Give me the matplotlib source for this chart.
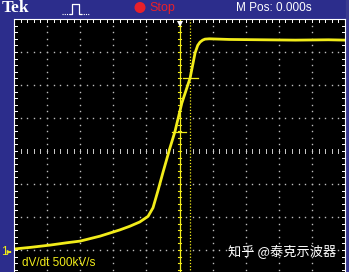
import numpy as np
import matplotlib.pyplot as plt

# trace of channel 1, in divisions (x: time div, y: volt div)
trace_x = [-5.0, -4.5, -3.9, -3.4, -3.0, -2.4, -1.8, -1.5, -1.2, -0.95, -0.8,
           -0.65, -0.5, -0.4, -0.29, -0.14, 0.07, 0.32, 0.47, 0.55, 0.62, 0.7,
           0.77, 0.9, 1.5, 2.5, 3.5, 4.5, 5.0]
trace_y = [-2.97, -2.92, -2.85, -2.78, -2.73, -2.58, -2.39, -2.28, -2.15, -1.98,
           -1.72, -1.2, -0.65, -0.3, 0.09, 0.58, 1.45, 2.21, 2.97, 3.2, 3.3,
           3.36, 3.39, 3.4, 3.38, 3.37, 3.36, 3.37, 3.36]

header_left = "Tek"
header_state = "Stop"
header_mpos = "M Pos: 0.000s"
readout = "dV/dt 500kV/s"
watermark = "知乎 @泰克示波器"

W, H = 349, 272
blue = "#2c2d8c"
yellow = "#f2ec1a"
dotc = "#bdbdbd"

fig = plt.figure(figsize=(W / 100, H / 100), dpi=100)
fig.patch.set_facecolor("black")

# overlay in pixel coordinates for the frame and header
bg = fig.add_axes([0, 0, 1, 1])
bg.set_xlim(0, W)
bg.set_ylim(H, 0)
bg.axis("off")
bg.add_patch(plt.Rectangle((0, 0), W, 18, color=blue, zorder=1))
bg.add_patch(plt.Rectangle((0, 0), 13.5, H, color=blue, zorder=1))
bg.add_patch(plt.Rectangle((345.5, 0), 4, H, color="#3a3a90", zorder=1))
bg.text(1.5, 8.5, header_left, color="white", fontsize=12.5, fontweight="bold",
        family="Liberation Serif", va="center", ha="left")
# trigger icon
bg.plot([62, 70], [14, 14], color="white", lw=0.8, ls=(0, (1, 1)))
bg.plot([70, 72, 72, 79, 79, 81], [14, 14, 4, 4, 14, 14], color="white", lw=0.9)
bg.plot([81, 89], [14, 14], color="white", lw=0.8, ls=(0, (1, 1)))
bg.add_patch(plt.Circle((140, 7.5), 4.8, color="#e8202a", zorder=3))
bg.text(149, 8, header_state, color="#e8202a", fontsize=9,
        family="Liberation Sans", va="center", ha="left")
bg.text(236, 8, header_mpos, color="white", fontsize=8.5,
        family="Liberation Sans", va="center", ha="left")
bg.text(1, 252, "1", color=yellow, fontsize=8.5, family="Liberation Sans",
        va="center", ha="left")
bg.annotate("", xy=(14, 252), xytext=(7.5, 252),
            arrowprops=dict(arrowstyle="-|>", color=yellow, lw=0.8,
                            mutation_scale=5))

# graticule axes: 10 x 8 divisions, bottom cut by the picture
top, left, right = 19, 14, 345
div = 33.0
ax = fig.add_axes([left / W, (H - top - 8 * div) / H, (right - left) / W,
                   8 * div / H])
ax.set_xlim(-5, 5)
ax.set_ylim(-4, 4)
ax.set_facecolor("black")
ax.set_xticks([])
ax.set_yticks([])
for s in ax.spines.values():
    s.set_color("white")
    s.set_linewidth(0.8)

fine = np.arange(-5, 5.01, 0.2)
fine_y = np.arange(-4, 4.01, 0.2)
for gx in range(-4, 5):
    if gx != 0:
        ax.plot(np.full(len(fine_y), gx), fine_y, ls="none", marker="s",
                ms=1.0, mew=0, color=dotc)
for gy in range(-3, 4):
    if gy != 0:
        ax.plot(fine, np.full(len(fine), gy), ls="none", marker="s", ms=1.0,
                mew=0, color=dotc)

# edge ticks and center-line ticks
for xv in fine:
    ax.plot([xv, xv], [4, 3.9], color="white", lw=0.7)
    ax.plot([xv, xv], [-0.06, 0.06], color="#cfcfcf", lw=0.7)
for yv in fine_y:
    ax.plot([-5, -4.9], [yv, yv], color="white", lw=0.7)
    ax.plot([4.9, 5], [yv, yv], color="white", lw=0.7)

# cursors
ax.axvline(0.0, color=yellow, lw=0.9)
for yv in fine_y:
    ax.plot([-0.06, 0.06], [yv, yv], color=yellow, lw=0.8)
ax.axvline(0.32, color=yellow, lw=0.9, ls=(0, (1, 1.5)))
ax.plot([-0.22, 0.2], [0.58, 0.58], color=yellow, lw=0.9)
ax.plot([0.1, 0.55], [2.21, 2.21], color=yellow, lw=0.9)
ax.plot([0], [3.85], marker="v", color="white", ms=5, mew=0)

ax.plot(trace_x, trace_y, color=yellow, lw=2.0, solid_joinstyle="round")

fig.text(22 / W, 1 - 263 / H, readout, color=yellow, fontsize=8.5,
         family="Liberation Sans", va="center", ha="left")
fig.text(228 / W, 1 - 252 / H, watermark, color="white", fontsize=9.5,
         family=["Noto Sans CJK SC", "DejaVu Sans"], va="center", ha="left")

fig.savefig("out.png", dpi=100, facecolor=fig.get_facecolor())
